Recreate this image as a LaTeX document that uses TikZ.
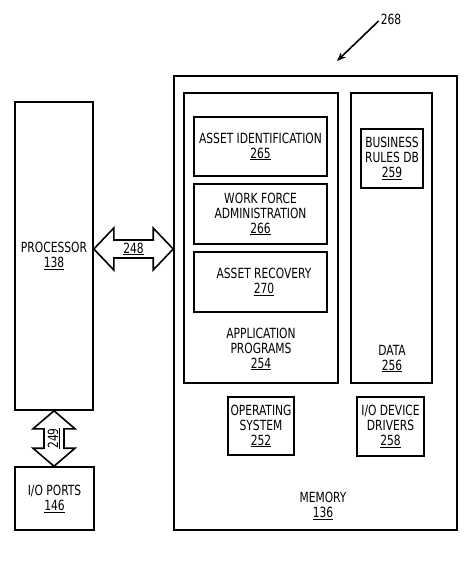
\documentclass[tikz,border=0pt]{standalone}
\usepackage{fontspec}
\setmainfont{DejaVu Sans Condensed}[FakeStretch=0.85]
\usetikzlibrary{calc}
\usetikzlibrary{positioning}
\usetikzlibrary{arrows.meta}
\newcommand\refnum[1]{\underline{#1}}
\tikzset{
  box/.style={draw,line width=1.6pt,inner sep=1pt,align=center},
  lbl/.style={inner sep=0pt,align=center},
  blockarrow/.style={draw,line width=1.6pt,line join=miter},
  pointer/.style={-{Stealth[length=9pt,width=7pt]},line width=1.6pt}
}

\begin{document}
\begin{tikzpicture}[x=1pt,y=-1pt,font=\fontsize{14}{15}\selectfont]
  \useasboundingbox (0,0) rectangle (474,577);
  % left side
  \node[box,minimum width=78pt,minimum height=308pt] (proc) at (54,256) {PROCESSOR\\\refnum{138}};
  \node[box,minimum width=79pt,minimum height=63pt] (ioports) at (54.5,498.5) {I/O PORTS\\\refnum{146}};
  % memory and its parts
  \node[box,minimum width=283pt,minimum height=454pt] (mem) at (315.5,303) {};
  \node[box,minimum width=154pt,minimum height=290pt] (apps) at (261,238) {};
  \node[box,minimum width=81pt,minimum height=290pt] (data) at (391.5,238) {};
  \node[box,minimum width=133pt,minimum height=59pt] (assetid) at (260.5,146.5) {ASSET IDENTIFICATION\\\refnum{265}};
  \node[box,minimum width=133pt,minimum height=60pt] (workforce) at (260.5,214) {WORK FORCE\\ADMINISTRATION\\\refnum{266}};
  \node[box,minimum width=133pt,minimum height=60pt] (recovery) at (260.5,282) {\hspace*{7pt}ASSET RECOVERY\\\hspace*{7pt}\refnum{270}};
  \node[box,minimum width=62pt,minimum height=59pt] (rulesdb) at (392,158.5) {BUSINESS\\RULES DB\\\refnum{259}};
  \node[box,minimum width=66pt,minimum height=58pt] (opsys) at (261,426) {OPERATING\\SYSTEM\\\refnum{252}};
  \node[box,minimum width=67pt,minimum height=59pt] (iodrv) at (390.5,426.5) {I/O DEVICE\\DRIVERS\\\refnum{258}};
  \node[lbl] (appslbl) at (261,349) {APPLICATION\\PROGRAMS\\\refnum{254}};
  \node[lbl] (datalbl) at (392,358.5) {DATA\\\refnum{256}};
  \node[lbl] (memlbl) at (323,505.5) {MEMORY\\\refnum{136}};
  % bus 248
  \path (proc.east |- 0,249) coordinate (w248) (mem.west |- 0,249) coordinate (e248);
  \draw[blockarrow] (w248) -- ++(20,-21) -- ++(0,12) -- ($(e248)+(-20,-9)$) -- ++(0,-12)
    -- (e248) -- ++(-20,21) -- ++(0,-12) -- ($(w248)+(20,9)$) -- ++(0,12) -- cycle;
  \node[lbl] (l248) at ($(w248)!0.5!(e248)$) {\refnum{248}};
  % bus 249
  \path (proc.south) coordinate (n249) (ioports.north -| proc.south) coordinate (s249);
  \draw[blockarrow] (n249) -- ++(21,18) -- ++(-11,0) -- ($(s249)+(10,-18)$) -- ++(11,0)
    -- (s249) -- ++(-21,-18) -- ++(11,0) -- ($(n249)+(-10,18)$) -- ++(-11,0) -- cycle;
  \node[lbl,rotate=90] (l249) at ($(n249)!0.5!(s249)$) {\refnum{249}};
  % reference 268
  \node[lbl] (l268) at (391,19) {268};
  \coordinate (t268) at (337,61);
  \draw[pointer] ([xshift=-2pt,yshift=-2pt]l268.west) -- (t268);
\end{tikzpicture}
\end{document}
